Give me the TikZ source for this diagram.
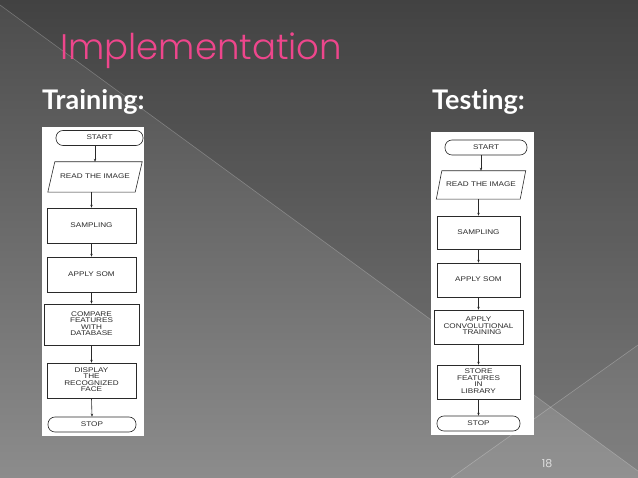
\documentclass[tikz,border=0pt]{standalone}
\usepackage{fontspec}
\setmainfont{Liberation Sans}
\newfontfamily\titlefont{Poppins Light}
\newfontfamily\numfont{Poppins}
\newfontfamily\headfont{Lato}[Ligatures=NoCommon]
\usetikzlibrary{arrows.meta,calc}
\definecolor{bgtop}{HTML}{4C4C4C}
\definecolor{bgbot}{HTML}{8C8C8C}
\definecolor{titlepink}{RGB}{238,70,140}
\definecolor{ink}{HTML}{2A2A2A}
\newcommand{\fctext}[1]{\scalebox{1.2}[1]{\renewcommand{\arraystretch}{0.9}\begin{tabular}{@{}c@{}}#1\end{tabular}}}
\tikzset{
  box/.style={draw=ink, line width=0.6pt, fill=white, inner sep=0pt, align=center,
    font=\fontsize{6.8}{6.4}\selectfont, text=ink},
  term/.style={box, rounded corners=7pt},
  ghost/.style={inner sep=0pt, align=center, font=\fontsize{6.8}{6.4}\selectfont, text=ink},
  arr/.style={draw=ink, line width=0.6pt, -{Stealth[length=3pt,width=2.4pt]}},
  head/.style={text=white, font=\headfont\bfseries\fontsize{27}{30}\selectfont, anchor=base west, inner sep=0pt},
  panel/.style={fill=white, draw=none}
}
\begin{document}
\begin{tikzpicture}[x=1pt,y=-1pt]
\useasboundingbox (0,0) rectangle (638,478);
% background
\fill[top color=bgtop, bottom color=bgbot] (0,0) rectangle (638,478);
\fill[black, opacity=0.12] (0,5) -- (638,471) -- (638,0) -- (0,0) -- cycle;
\fill[white, opacity=0.05] (451,478) -- (638,345) -- (638,478) -- cycle;
\draw[white, opacity=0.25, line width=0.6pt] (0,5) -- (638,471);
\draw[white, opacity=0.25, line width=0.6pt] (451,478) -- (638,345);

% title and headings
\node[text=titlepink, font=\titlefont\fontsize{35.5}{38}\selectfont, anchor=base west, inner sep=0pt] (title) at (60,60) {Implementation};
\node[head] (train) at (42,110) {Training:};
\node[head] (test) at (432,110) {Testing:};
\node[text=white!88!black, font=\numfont\fontsize{11}{12}\selectfont, inner sep=0pt] (page) at (547,464) {18};

% panels
\fill[panel] (42,127) rectangle (144,436);
\fill[panel] (431,132) rectangle (534,435);

% ---- Training flowchart ----
\node[term, minimum width=87pt, minimum height=15pt] (ts) at (99.5,138) {\fctext{START}};
\node[ghost, minimum width=87pt, minimum height=30pt] (tr) at (95,177) {\fctext{READ THE IMAGE}};
\draw[draw=ink, line width=0.6pt] ([xshift=3.5pt]tr.north west) -- ([xshift=3.5pt]tr.north east) -- ([xshift=-3.5pt]tr.south east) -- ([xshift=-3.5pt]tr.south west) -- cycle;
\node[box, minimum width=89pt, minimum height=35pt] (tsa) at (91.5,225.5) {\fctext{SAMPLING}};
\node[box, minimum width=89pt, minimum height=35pt] (tso) at (91.5,274.5) {\fctext{APPLY SOM}};
\node[box, minimum width=95pt, minimum height=41pt] (tc) at (91.5,324.5) {\fctext{COMPARE\\FEATURES\\WITH\\DATABASE}};
\node[box, minimum width=89pt, minimum height=35pt] (td) at (91.5,380.5) {\fctext{DISPLAY\\THE\\RECOGNIZED\\FACE}};
\node[term, minimum width=88pt, minimum height=15pt] (tst) at (92,424.5) {\fctext{STOP}};
\draw[arr] (ts.south -| tr.north) -- (tr.north);
\draw[arr] (tr.south -| tsa.north) -- (tsa.north);
\draw[arr] (tsa.south) -- (tso.north);
\draw[arr] (tso.south) -- (tc.north);
\draw[arr] (tc.south) -- (td.north);
\draw[arr] (td.south) -- (tst.north);

% ---- Testing flowchart ----
\node[term, minimum width=82pt, minimum height=15pt] (es) at (486,147.5) {\fctext{START}};
\node[ghost, minimum width=83.5pt, minimum height=28pt] (er) at (481,185) {\fctext{READ THE IMAGE}};
\draw[draw=ink, line width=0.6pt] ([xshift=2.75pt]er.north west) -- ([xshift=2.75pt]er.north east) -- ([xshift=-2.75pt]er.south east) -- ([xshift=-2.75pt]er.south west) -- cycle;
\node[box, minimum width=83pt, minimum height=33pt] (esa) at (478.5,232.5) {\fctext{SAMPLING}};
\node[box, minimum width=83pt, minimum height=34pt] (eso) at (478.5,280) {\fctext{APPLY SOM}};
\node[box, minimum width=89pt, minimum height=34pt] (ec) at (478.5,327) {\fctext{APPLY\\CONVOLUTIONAL\\\hspace*{6pt}TRAINING}};
\node[box, minimum width=83pt, minimum height=34pt] (ef) at (478.5,382) {\fctext{STORE\\FEATURES\\IN\\LIBRARY}};
\node[term, minimum width=83pt, minimum height=15pt] (est) at (478.5,423.5) {\fctext{STOP}};
\draw[arr] (es.south -| er.north) -- (er.north);
\draw[arr] (er.south -| esa.north) -- (esa.north);
\draw[arr] (esa.south) -- (eso.north);
\draw[arr] (eso.south) -- (ec.north);
\draw[arr] (ec.south) -- (ef.north);
\draw[arr] (ef.south) -- (est.north);
\end{tikzpicture}
\end{document}
